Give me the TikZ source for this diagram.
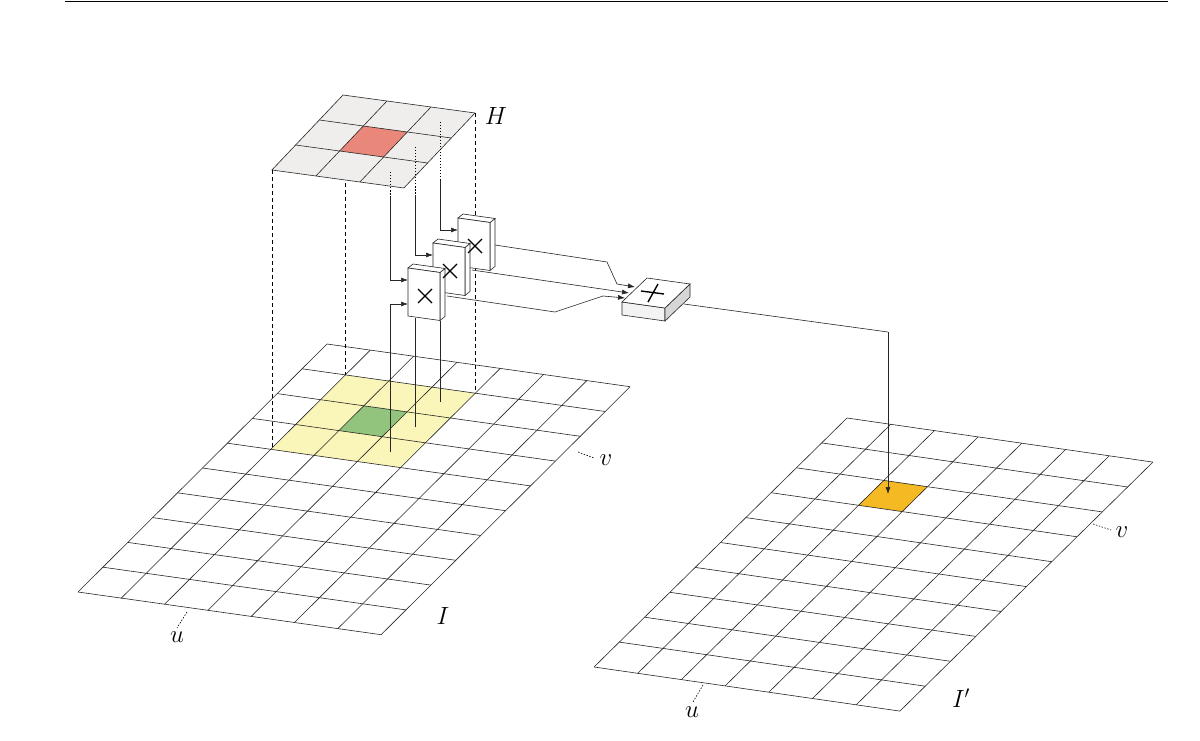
\documentclass[tikz,border=0pt]{standalone}
\usetikzlibrary{calc,arrows.meta}
\definecolor{hgray}{HTML}{EFEEEC}
\definecolor{hred}{HTML}{E8877A}
\definecolor{iyel}{HTML}{FAF5B8}
\definecolor{igrn}{HTML}{93C47D}
\definecolor{iorg}{HTML}{F5B923}
\definecolor{pfront}{HTML}{F3F3F3}
\definecolor{pside}{HTML}{D6D6D6}
\begin{document}
\begin{tikzpicture}[x={(1pt,0pt)},y={(0pt,-1pt)},
  ln/.style={line width=0.6pt,black!85},
  conn/.style={line width=0.6pt,black!85},
  arr/.style={conn,-{Latex[length=7pt,width=5pt]}},
  dsh/.style={line width=0.6pt,dash pattern=on 4pt off 3pt},
  dts/.style={line width=0.6pt,dash pattern=on 1.5pt off 1.5pt},
  lbl/.style={font=\fontsize{24}{24}\selectfont}]
\useasboundingbox (0,0) rectangle (1200,741);
\fill[white] (0,0) rectangle (1200,741);
\draw[line width=1pt] (65,2) -- (1168,2);

% ---------- left grid I
\begin{scope}[shift={(327,344)},x={(43.3pt,-6.1pt)},y={(-24.9pt,-24.8pt)}]
  \fill[iyel] (1,1) -- (4,1) -- (4,4) -- (1,4) -- cycle;
  \fill[igrn] (2,2) -- (3,2) -- (3,3) -- (2,3) -- cycle;
  \foreach \c in {0,...,7} \draw[ln] (\c,0) -- (\c,10);
  \foreach \r in {0,...,10} \draw[ln] (0,\r) -- (7,\r);
\end{scope}
% ---------- right grid I'
\begin{scope}[shift={(847,418)},x={(43.7pt,-6.3pt)},y={(-25.3pt,-24.9pt)}]
  \fill[iorg] (2,2) -- (3,2) -- (3,3) -- (2,3) -- cycle;
  \foreach \c in {0,...,7} \draw[ln] (\c,0) -- (\c,10);
  \foreach \r in {0,...,10} \draw[ln] (0,\r) -- (7,\r);
\end{scope}
% ---------- H
\begin{scope}[shift={(343,95)},x={(44pt,-6pt)},y={(-23.7pt,-25pt)}]
  \fill[hgray] (0,0) -- (3,0) -- (3,3) -- (0,3) -- cycle;
  \fill[hred] (1,1) -- (2,1) -- (2,2) -- (1,2) -- cycle;
  \foreach \c in {0,...,3} \draw[ln] (\c,0) -- (\c,3);
  \foreach \r in {0,...,3} \draw[ln] (0,\r) -- (3,\r);
\end{scope}

% ---------- dashed projections
\coordinate (hbl) at (272,170); \coordinate (ybl) at (272,449);
\coordinate (htl) at (345,183); \coordinate (ytl) at (345,375);
\coordinate (htr) at (475,113); \coordinate (ytr) at (475,393);
\draw[dsh] (hbl) -- (ybl);
\draw[dsh] (htl) -- (ytl);
\draw[dsh] (htr) -- (ytr);

% ---------- H cells to multipliers
\coordinate (hc1) at (390,172); \coordinate (hd1) at (390,197); \coordinate (he1) at (390,280); \coordinate (m1a) at (408,280);
\coordinate (hc2) at (415,147); \coordinate (hd2) at (415,195); \coordinate (he2) at (415,255); \coordinate (m2a) at (433,255);
\coordinate (hc3) at (440,122); \coordinate (hd3) at (440,180); \coordinate (he3) at (440,230); \coordinate (m3a) at (458,230);
\foreach \i in {1,2,3}{
  \draw[dts] (hc\i) -- (hd\i);
  \draw[conn] (hd\i) -- (he\i);
  \draw[arr] (he\i) -- (m\i a);
}
% ---------- I cells to multipliers
\coordinate (ic1) at (390,452); \coordinate (ie1) at (390,304); \coordinate (m1b) at (408,304);
\coordinate (ic2) at (415,427); \coordinate (ie2) at (415,318);
\coordinate (ic3) at (440,402); \coordinate (ie3) at (440,321);
\draw[conn] (ic1) -- (ie1);
\draw[arr] (ie1) -- (m1b);
\draw[conn] (ic2) -- (ie2);
\draw[conn] (ic3) -- (ie3);

% ---------- multiplier outputs
\coordinate (o3) at (495,245); \coordinate (o3b) at (607,262); \coordinate (o3c) at (617,284); \coordinate (p3) at (635,287);
\coordinate (o2) at (472,270); \coordinate (p2) at (629,293);
\coordinate (o1) at (447,296); \coordinate (o1b) at (555,312); \coordinate (o1c) at (603,296); \coordinate (p1) at (625,298);
\draw[conn] (o3) -- (o3b) -- (o3c); \draw[arr] (o3c) -- (p3);
\draw[arr] (o2) -- (p2);
\draw[conn] (o1) -- (o1b) -- (o1c); \draw[arr] (o1c) -- (p1);

% ---------- multiplier boxes (back to front)
\foreach \k in {2,1,0}{
  \begin{scope}[shift={($(408,268)+\k*(25,-25)$)}]
    \draw[ln,fill=white] (32,4.5) -- (37,0.5) -- (37,48.5) -- (32,52.5) -- cycle;
    \draw[ln,fill=white] (0,0) -- (5,-4) -- (37,0.5) -- (32,4.5) -- cycle;
    \draw[ln,fill=white] (0,0) -- (32,4.5) -- (32,52.5) -- (0,48) -- cycle;
  \end{scope}
}
\foreach \k in {0,1,2}{
  \begin{scope}[shift={($(408,268)+\k*(25,-25)$)}]
    \draw[line width=1.1pt] (10,21) -- (24,35) (24,21) -- (10,35);
  \end{scope}
}

% ---------- plus box
\coordinate (pa) at (622,302); \coordinate (pb) at (647,278); \coordinate (pc) at (690,284); \coordinate (pd) at (665,308);
\coordinate (pdd) at (665,321); \coordinate (paa) at (622,315); \coordinate (pcc) at (690,297);
\draw[ln,fill=pfront] (pa) -- (pd) -- (pdd) -- (paa) -- cycle;
\draw[ln,fill=pside] (pd) -- (pc) -- (pcc) -- (pdd) -- cycle;
\draw[ln,fill=white] (pa) -- (pb) -- (pc) -- (pd) -- cycle;
\draw[line width=1.4pt] (641,291) -- (664,294) (658,284) -- (648,302);

% ---------- output to I'
\coordinate (po) at (684,304); \coordinate (pk) at (888,332); \coordinate (orc) at (888,494);
\draw[conn] (po) -- (pk);
\draw[arr] (pk) -- (orc);

% ---------- labels
\node[lbl] (lH) at (496,116) {$H$};
\node[lbl] (lI) at (443,616) {$I$};
\node[lbl] (lI2) at (961,698) {$I'$};
\coordinate (vl1) at (578,452); \coordinate (vl2) at (594,458);
\node[lbl,anchor=west] (lv) at (596,460) {$v$};
\draw[dts] (vl1) -- (vl2);
\coordinate (ul1) at (187,612); \coordinate (ul2) at (177,628);
\node[lbl] (lu) at (177,637) {$u$};
\draw[dts] (ul1) -- (ul2);
\coordinate (vr1) at (1093,524); \coordinate (vr2) at (1111,530);
\node[lbl,anchor=west] (lv2) at (1112,532) {$v$};
\draw[dts] (vr1) -- (vr2);
\coordinate (ur1) at (703,685); \coordinate (ur2) at (693,702);
\node[lbl] (lu2) at (692,712) {$u$};
\draw[dts] (ur1) -- (ur2);
\end{tikzpicture}
\end{document}
